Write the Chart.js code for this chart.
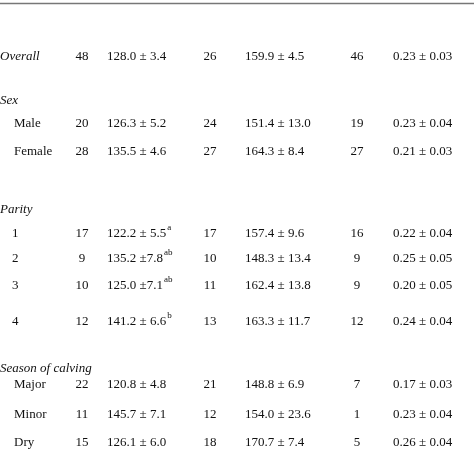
<!DOCTYPE html>
<html lang="en">
<head>
<meta charset="UTF-8">
<title>Table</title>
<script src="https://cdn.jsdelivr.net/npm/chart.js"></script>
<style>
  html, body { margin: 0; padding: 0; background: #fff; }
  #wrap { width: 474px; height: 474px; }
</style>
</head>
<body>
<div id="wrap"><canvas id="tbl"></canvas></div>
<script>
// row labels and their row position (y in px-like units of the 0..474 scale)
const rowLabels = ['Overall', 'Sex', 'Male', 'Female', 'Parity', '1', '2', '3', '4', 'Season of calving', 'Major', 'Minor', 'Dry'];
const rowY      = [57, 101, 124, 152, 210, 234, 259, 286, 322, 369, 385, 415, 443];
const headerRow = [true, true, false, false, true, false, false, false, false, true, false, false, false];

// columns: n and mean ± se for three traits
const n1  = ['48', '', '20', '28', '', '17', '9', '10', '12', '', '22', '11', '15'];
const v1  = ['128.0 ± 3.4', '', '126.3 ± 5.2', '135.5 ± 4.6', '', '122.2 ± 5.5', '135.2 ±7.8', '125.0 ±7.1', '141.2 ± 6.6', '', '120.8 ± 4.8', '145.7 ± 7.1', '126.1 ± 6.0'];
const sup1 = ['', '', '', '', '', 'a', 'ab', 'ab', 'b', '', '', '', ''];
const n2  = ['26', '', '24', '27', '', '17', '10', '11', '13', '', '21', '12', '18'];
const v2  = ['159.9 ± 4.5', '', '151.4 ± 13.0', '164.3 ± 8.4', '', '157.4 ± 9.6', '148.3 ± 13.4', '162.4 ± 13.8', '163.3 ± 11.7', '', '148.8 ± 6.9', '154.0 ± 23.6', '170.7 ± 7.4'];
const n3  = ['46', '', '19', '27', '', '16', '9', '9', '12', '', '7', '1', '5'];
const v3  = ['0.23 ± 0.03', '', '0.23 ± 0.04', '0.21 ± 0.03', '', '0.22 ± 0.04', '0.25 ± 0.05', '0.20 ± 0.05', '0.24 ± 0.04', '', '0.17 ± 0.03', '0.23 ± 0.04', '0.26 ± 0.04'];

const font = '13px "Liberation Serif", "DejaVu Serif", serif';

const tablePlugin = {
  id: 'tableText',
  afterDraw(chart) {
    const ctx = chart.ctx, xs = chart.scales.x, ys = chart.scales.y;
    ctx.save();
    ctx.fillStyle = '#111';
    ctx.textBaseline = 'middle';
    // top rule
    ctx.strokeStyle = '#777';
    ctx.lineWidth = 1.5;
    ctx.beginPath();
    ctx.moveTo(xs.getPixelForValue(0), ys.getPixelForValue(3.5));
    ctx.lineTo(xs.getPixelForValue(474), ys.getPixelForValue(3.5));
    ctx.stroke();

    rowLabels.forEach((lab, i) => {
      const y = ys.getPixelForValue(rowY[i]);
      ctx.font = headerRow[i] ? 'italic ' + font : font;
      ctx.textAlign = 'left';
      const indent = headerRow[i] ? 0 : (/^\d/.test(lab) ? 12 : 14);
      ctx.fillText(lab, xs.getPixelForValue(indent), y);
      ctx.font = font;
      ctx.textAlign = 'center';
      ctx.fillText(n1[i], xs.getPixelForValue(82), y);
      ctx.fillText(n2[i], xs.getPixelForValue(210), y);
      ctx.fillText(n3[i], xs.getPixelForValue(357), y);
      ctx.textAlign = 'left';
      ctx.fillText(v1[i], xs.getPixelForValue(107), y);
      if (sup1[i]) {
        const w = ctx.measureText(v1[i]).width;
        ctx.font = '9px "Liberation Serif", serif';
        ctx.fillText(sup1[i], xs.getPixelForValue(107) + w + 1, y - 6);
        ctx.font = font;
      }
      ctx.fillText(v2[i], xs.getPixelForValue(245), y);
      ctx.fillText(v3[i], xs.getPixelForValue(393), y);
    });
    ctx.restore();
  }
};

new Chart(document.getElementById('tbl'), {
  type: 'scatter',
  data: { datasets: [{ data: rowY.map(y => ({ x: 0, y })), pointRadius: 0 }] },
  options: {
    responsive: true,
    maintainAspectRatio: false,
    animation: false,
    layout: { padding: 0 },
    plugins: { legend: { display: false }, tooltip: { enabled: false } },
    scales: {
      x: { type: 'linear', min: 0, max: 474, display: false },
      y: { type: 'linear', min: 0, max: 474, reverse: true, display: false }
    }
  },
  plugins: [tablePlugin]
});
</script>
</body>
</html>
